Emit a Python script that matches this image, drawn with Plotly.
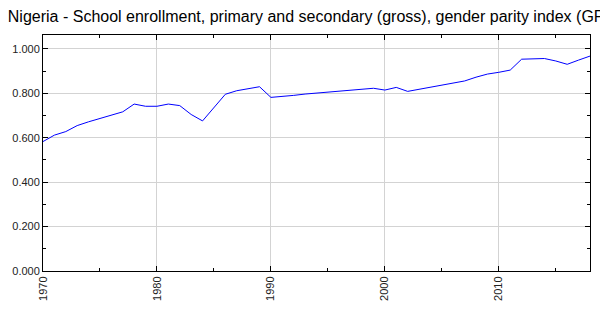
import plotly.graph_objects as go

years = list(range(1970, 2019))
gpi = [0.583, 0.612, 0.628, 0.655, 0.672, 0.688, 0.703, 0.717, 0.752, 0.742,
       0.742, 0.752, 0.745, 0.705, 0.676, 0.735, 0.796, 0.812, 0.820, 0.830,
       0.782, 0.785, 0.791, 0.797, 0.801, 0.805, 0.809, 0.815, 0.818, 0.823,
       0.815, 0.827, 0.809, 0.818, 0.827, 0.838, 0.848, 0.856, 0.873, 0.887,
       0.895, 0.905, 0.954, 0.954, 0.957, 0.946, 0.931, 0.950, 0.968]
title_text = "Nigeria - School enrollment, primary and secondary (gross), gender parity index (GPI)"
x_ticks = [1970, 1980, 1990, 2000, 2010]
y_ticks = [0.0, 0.2, 0.4, 0.6, 0.8, 1.0]

fig = go.Figure()
fig.add_trace(go.Scatter(x=years, y=gpi, mode="lines",
                         line=dict(color="#0000ff", width=1)))

fig.update_layout(
    width=600, height=315,
    margin=dict(l=43, r=10, t=35, b=44),
    paper_bgcolor="white", plot_bgcolor="white",
    showlegend=False,
    font=dict(family="Liberation Sans, Arial, sans-serif", color="#222222", size=11),
    title=dict(text=title_text, x=0.013, xref="container", xanchor="left",
               y=1 - 16 / 315, yref="container", yanchor="middle",
               font=dict(size=16, color="black",
                         family="Liberation Sans, Arial, sans-serif")),
)
fig.update_xaxes(
    range=[1970, 2018], tickvals=x_ticks, ticktext=[str(v) for v in x_ticks],
    tickangle=-90, showgrid=True, gridcolor="#d3d3d3", gridwidth=1,
    showline=True, linecolor="black", linewidth=1, mirror="ticks",
    ticks="inside", ticklen=5, tickcolor="black",
    minor=dict(dtick=5, tick0=1970, ticks="inside", ticklen=3, tickcolor="black", showgrid=False),
    zeroline=False,
)
fig.update_yaxes(
    range=[0, 1.063], tickvals=y_ticks, tickformat=".3f",
    showgrid=True, gridcolor="#d3d3d3", gridwidth=1,
    showline=True, linecolor="black", linewidth=1, mirror="ticks",
    ticks="inside", ticklen=5, tickcolor="black",
    minor=dict(dtick=0.1, tick0=0, ticks="inside", ticklen=3, tickcolor="black", showgrid=False),
    zeroline=False,
)
fig.write_html("out.html")
